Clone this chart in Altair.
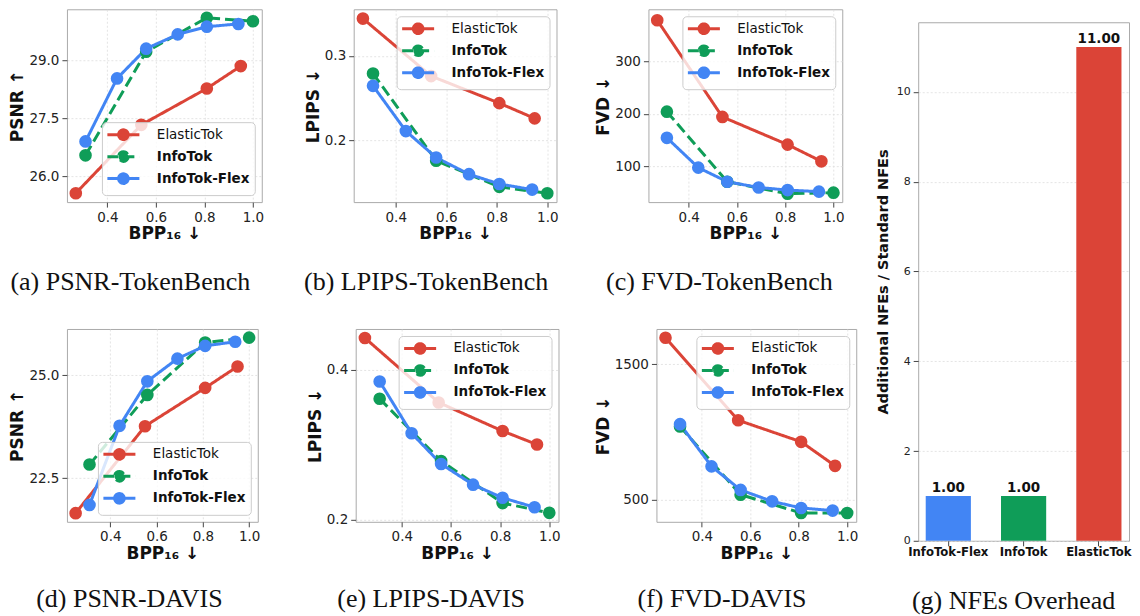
import altair as alt
import pandas as pd

SERIES = ["ElasticTok", "InfoTok", "InfoTok-Flex"]
COLORS = ["#DB4437", "#0F9D58", "#4285F4"]

# BPP16 positions
tb_elastic_x = [0.27, 0.54, 0.81, 0.95]
davis_elastic_x = [0.25, 0.55, 0.81, 0.95]
infotok_x = [0.31, 0.56, 0.81, 1.0]
flex_x = [0.31, 0.44, 0.56, 0.69, 0.81, 0.94]

# TokenBench
psnr_tb_elastic = [25.56, 27.33, 28.27, 28.85]
psnr_tb_infotok = [26.54, 29.22, 30.10, 30.01]
psnr_tb_flex = [26.90, 28.53, 29.30, 29.67, 29.87, 29.94]

lpips_tb_elastic = [0.344, 0.276, 0.244, 0.226]
lpips_tb_infotok = [0.279, 0.176, 0.145, 0.1375]
lpips_tb_flex = [0.2645, 0.211, 0.1797, 0.160, 0.1484, 0.1418]

fvd_tb_elastic = [379, 194, 141, 109]
fvd_tb_infotok = [204, 70, 47, 49]
fvd_tb_flex = [154, 97, 70, 59, 54, 51]

# DAVIS
psnr_davis_elastic = [21.65, 23.76, 24.69, 25.21]
psnr_davis_infotok = [22.83, 24.52, 25.79, 25.91]
psnr_davis_flex = [21.85, 23.77, 24.85, 25.40, 25.71, 25.81]

lpips_davis_elastic = [0.442, 0.356, 0.318, 0.300]
lpips_davis_infotok = [0.361, 0.278, 0.222, 0.209]
lpips_davis_flex = [0.384, 0.315, 0.274, 0.2465, 0.229, 0.2164]

fvd_davis_elastic = [1696, 1088, 929, 752]
fvd_davis_infotok = [1042, 539, 404, 404]
fvd_davis_flex = [1059, 748, 574, 490, 441, 422]

# NFEs overhead
NFE_METHODS = ["InfoTok-Flex", "InfoTok", "ElasticTok"]
NFE_VALUES = [1.0, 1.0, 11.0]
NFE_COLORS = ["#4285F4", "#0F9D58", "#DB4437"]

SYMBOL_PATH = "M-2.67,0H2.67M0.8,0A0.8,0.8,0,1,1,-0.8,0A0.8,0.8,0,1,1,0.8,0Z"
FONT = "DejaVu Sans"
SERIF = "Liberation Serif"


def make_df(xs_list, ys_list):
    rows = []
    for k, (s, xs, ys) in enumerate(zip(SERIES, xs_list, ys_list)):
        for x, y in zip(xs, ys):
            rows.append({"series": s, "k": k, "x": x, "y": y})
    return pd.DataFrame(rows)


def make_legend(orient):
    return alt.Legend(
        title=None, orient=orient, offset=7,
        symbolType=SYMBOL_PATH, symbolSize=144, symbolStrokeWidth=3,
        symbolOffset=9, labelOffset=26,
        labelFont=FONT, labelFontSize=13.5, labelColor="#111111",
        labelFontWeight=alt.ExprRef("datum.label == 'ElasticTok' ? 'normal' : 'bold'"),
        fillColor="rgba(255,255,255,0.8)", strokeColor="#cccccc", cornerRadius=4,
        padding=5, rowPadding=-1,
    )


def panel(df, xdom, ydom, yvals, yfmt, ytitle, caption, cdx, coff, orient, w, h):
    color = alt.Color("series:N", scale=alt.Scale(domain=SERIES, range=COLORS),
                      legend=make_legend(orient))
    x = alt.X("x:Q", scale=alt.Scale(domain=xdom, nice=False, zero=False),
              axis=alt.Axis(values=[0.4, 0.6, 0.8, 1.0], format=".1f", title="BPP₁₆  ↓"))
    y = alt.Y("y:Q", scale=alt.Scale(domain=ydom, nice=False, zero=False),
              axis=alt.Axis(values=yvals, format=yfmt, title=ytitle))
    base = alt.Chart(df)
    lines = base.mark_line(strokeWidth=3).encode(
        x=x, y=y, color=color,
        strokeDash=alt.StrokeDash("series:N",
                                  scale=alt.Scale(domain=SERIES, range=[[1, 0], [11, 5], [1, 0]]),
                                  legend=None),
        order="x:Q",
    )
    points = base.mark_circle(size=160, opacity=1).encode(x=x, y=y, color=color)
    return alt.layer(lines, points).properties(
        width=w, height=h,
        title=alt.TitleParams(caption, orient="bottom", anchor="middle", offset=coff, dx=cdx,
                              frame="bounds", font=SERIF, fontSize=26, fontWeight="normal",
                              color="#111111"),
    )


TB_X = [0.2335, 1.0365]
DV_X = [0.2125, 1.0375]

a = panel(make_df([tb_elastic_x, infotok_x, flex_x], [psnr_tb_elastic, psnr_tb_infotok, psnr_tb_flex]),
          TB_X, [25.33, 30.32], [26.0, 27.5, 29.0], ".1f", "PSNR ↑", "(a) PSNR-TokenBench", -6, 27,
          "bottom-right", 195, 193)
b = panel(make_df([tb_elastic_x, infotok_x, flex_x], [lpips_tb_elastic, lpips_tb_infotok, lpips_tb_flex]),
          TB_X, [0.127, 0.355], [0.2, 0.3], ".1f", "LPIPS ↓", "(b) LPIPS-TokenBench", -5, 27,
          "top-right", 203, 193)
c = panel(make_df([tb_elastic_x, infotok_x, flex_x], [fvd_tb_elastic, fvd_tb_infotok, fvd_tb_flex]),
          TB_X, [31, 400], [100, 200, 300], "d", "FVD ↓", "(c) FVD-TokenBench", 0, 27,
          "top-right", 194, 193)
d = panel(make_df([davis_elastic_x, infotok_x, flex_x], [psnr_davis_elastic, psnr_davis_infotok, psnr_davis_flex]),
          DV_X, [21.44, 26.12], [22.5, 25.0], ".1f", "PSNR ↑", "(d) PSNR-DAVIS", -5, 25,
          "bottom-right", 191, 193)
e = panel(make_df([davis_elastic_x, infotok_x, flex_x], [lpips_davis_elastic, lpips_davis_infotok, lpips_davis_flex]),
          DV_X, [0.197, 0.454], [0.2, 0.4], ".1f", "LPIPS ↓", "(e) LPIPS-DAVIS", -2, 25,
          "top-right", 203, 193)
f = panel(make_df([davis_elastic_x, infotok_x, flex_x], [fvd_davis_elastic, fvd_davis_infotok, fvd_davis_flex]),
          DV_X, [339, 1761], [500, 1500], "d", "FVD ↓", "(f) FVD-DAVIS", -4, 25,
          "top-right", 200, 193)

# (g) bar chart
bar_df = pd.DataFrame({"method": NFE_METHODS, "value": NFE_VALUES})
gx = alt.X("method:N", sort=NFE_METHODS,
           scale=alt.Scale(paddingInner=0.4, paddingOuter=0.1),
           axis=alt.Axis(title="(g) NFEs Overhead", titleFont=SERIF, titleFontSize=26,
                         titleFontWeight="normal", titlePadding=29, titleX=95,
                         labelAngle=0, labelFontWeight="bold", labelFontSize=11.7,
                         labelColor="#111111", labelPadding=1))
gy = alt.Y("value:Q", scale=alt.Scale(domain=[0, 11.55], nice=False),
           axis=alt.Axis(values=[0, 2, 4, 6, 8, 10], title="Additional NFEs / Standard NFEs",
                         titleFontSize=14.5, labelFontSize=11, titlePadding=6))
gbase = alt.Chart(bar_df)
bars = gbase.mark_bar().encode(
    x=gx, y=gy,
    color=alt.Color("method:N", scale=alt.Scale(domain=NFE_METHODS, range=NFE_COLORS), legend=None),
)
blabels = gbase.mark_text(baseline="bottom", dy=-1, font=FONT, fontWeight="bold",
                          fontSize=13.5, color="#111111").encode(
    x=gx, y=gy, text=alt.Text("value:Q", format=".2f"))
g = alt.layer(bars, blabels).properties(width=211, height=519)

# invisible spacer that lowers panel (g) relative to the top row
spacer = alt.Chart(pd.DataFrame({"v": [0]})).mark_point(size=0, strokeWidth=0, opacity=0).encode(
    x=alt.X("v:Q", axis=None), y=alt.Y("v:Q", axis=None)
).properties(width=1, height=1, view=alt.ViewBackground(stroke=None))


def indep(ch):
    return ch.resolve_scale(color="independent", strokeDash="independent").resolve_legend(
        color="independent", strokeDash="independent")


row1 = indep(alt.hconcat(a, b, c, spacing=92, bounds="flush"))
row2 = indep(alt.hconcat(d, e, f, spacing=98, bounds="flush"))
left = indep(alt.vconcat(row1, row2, spacing=33))
right = indep(alt.vconcat(spacer, g, spacing=11))
chart = indep(alt.hconcat(left, right, spacing=15)).properties(
    padding={"left": 0, "top": 0, "right": 0, "bottom": 0}
).configure_axis(
    labelFont=FONT, titleFont=FONT, labelFontSize=13.5, labelColor="#222222",
    titleFontSize=17, titleFontWeight="bold", titleColor="#111111",
    tickColor="#444444", tickSize=5, domain=False, labelPadding=3,
    gridColor="#dddddd", gridDash=[2, 2], gridWidth=0.8, titlePadding=2,
).configure_view(stroke="#aaaaaa", strokeWidth=1)

chart.save("out.html", embed_options={"renderer": "svg", "actions": False})
